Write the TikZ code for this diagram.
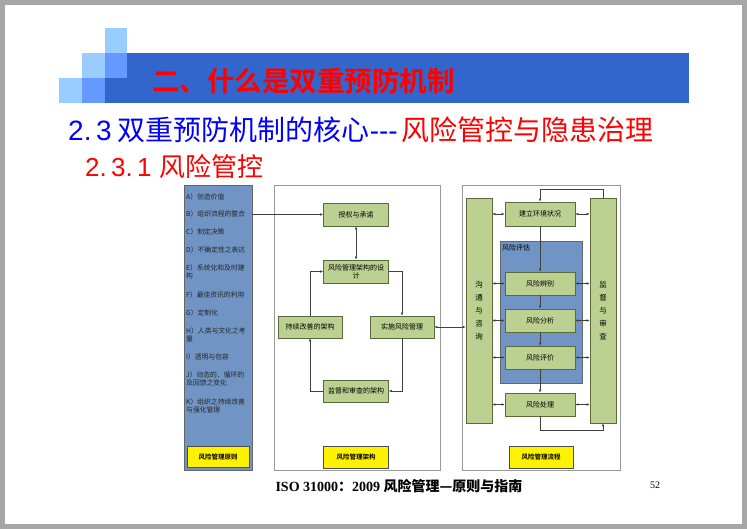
\documentclass[tikz,border=0pt]{standalone}
\usepackage{fontspec}
\setmainfont{Liberation Serif}
\newfontfamily\cjk{Noto Sans CJK SC}
\newfontfamily\cjkb{Noto Sans CJK SC Bold}
\newfontfamily\lsans{Liberation Sans}
\usetikzlibrary{arrows.meta}
\definecolor{barblue}{HTML}{3366CC}
\definecolor{medblue}{HTML}{6699FF}
\definecolor{litblue}{HTML}{99CCFF}
\definecolor{colblue}{HTML}{7094C4}
\definecolor{gbox}{HTML}{BCD092}
\definecolor{gedge}{HTML}{5A6B3A}
\tikzset{
 gb/.style={draw=gedge,fill=gbox,line width=0.6pt,font=\cjk\fontsize{7}{8}\selectfont,align=center,inner sep=1pt},
 yb/.style={draw=black!70,fill=yellow,line width=0.5pt,font=\cjkb\fontsize{6.5}{7}\selectfont},
 item/.style={anchor=north west,font=\cjk\fontsize{6.8}{8.5}\selectfont,text=black!85,align=left,inner sep=0pt},
 vt/.style={gb,font=\cjk\fontsize{7.5}{13}\selectfont},
 ar/.style={-{Latex[length=3pt,width=2.4pt]},draw=black!75,line width=0.5pt},
 dar/.style={{Latex[length=3pt,width=2.4pt]}-{Latex[length=3pt,width=2.4pt]},draw=black!75,line width=0.5pt},
 panel/.style={draw=black!40,fill=white,line width=0.8pt}
}
\begin{document}
\begin{tikzpicture}[x=1pt,y=-1pt]
\fill[black!35] (0,0) rectangle (747,529);
\fill[white] (5,5) rectangle (742,524);
\useasboundingbox (0,0) rectangle (747,529);
% decoration
\fill[litblue] (105,28) rectangle (127,53);
\fill[litblue] (82,53) rectangle (105,78);
\fill[litblue] (59,78) rectangle (82,103);
\fill[barblue] (105,53) rectangle (689,103);
\fill[medblue] (105,53) rectangle (127,78);
\fill[medblue] (82,78) rectangle (105,103);
\node[anchor=west,text=red,font=\cjkb\fontsize{27.5}{30}\selectfont,inner sep=0] (t1) at (152,81) {二、什么是双重预防机制};
\node[anchor=west,font=\cjk\fontsize{28}{30}\selectfont,inner sep=0] (t2) at (68,130) {\textcolor{blue}{{\lsans 2.\,3}\hspace{6pt}双重预防机制的核心{\lsans ---}\hspace{4pt}}\textcolor{red}{风险管控与隐患治理}};
\node[anchor=west,font=\cjk\fontsize{26}{28}\selectfont,text=red,inner sep=0] (t3) at (85,167) {{\lsans 2.\,3.\,1}\hspace{8pt}风险管控};
% left column
\draw[black!60,fill=colblue,line width=0.6pt] (184,185) rectangle (252,470);
\node[yb,minimum width=62pt,minimum height=21pt] (y1) at (218,457) {风险管理原则};
\foreach \t/\y [count=\i] in {A）创造价值/193,B）组织流程的整合/210,C）制定决策/228,D）不确定性之表达/246,E）系统化和及时建\\构/264,F）最佳资讯的利用/291,G）定制化/309,H）人类与文化之考\\量/327,I）透明与包容/353,J）动态的、循环的\\及回馈之变化/371,K）组织之持续改善\\与强化管理/398}
  \node[item] (it\i) at (186,\y) {\t};
% middle panel
\draw[panel] (274,185) rectangle (440,470);
\node[gb,minimum width=65pt,minimum height=23pt] (sq) at (356,214.5) {授权与承诺};
\node[gb,minimum width=65pt,minimum height=23pt] (sj) at (356,271.5) {风险管理架构的设\\计};
\node[gb,minimum width=64pt,minimum height=22pt] (cx) at (310,327) {持续改善的架构};
\node[gb,minimum width=64pt,minimum height=22pt] (ss) at (402,327) {实施风险管理};
\node[gb,minimum width=65pt,minimum height=22pt] (jd) at (356,391) {监督和审查的架构};
\node[yb,minimum width=65pt,minimum height=22pt] (y2) at (356,457) {风险管理架构};
\coordinate (bb) at (252,214.5);
\draw[ar] (bb) -- (sq.west);
\draw[dar] (sq.south) -- (sj.north);
\draw[ar] (sj.east) -| (ss.north);
\draw[ar] (ss.south) |- (jd.east);
\draw[ar] (jd.west) -| (cx.south);
\draw[ar] (cx.north) |- (sj.west);
% right panel
\draw[panel] (462,185) rectangle (620,470);
\draw[black!60,fill=colblue,line width=0.6pt] (500,241) rectangle (582,383);
\node[anchor=north west,font=\cjk\fontsize{7}{8}\selectfont,inner sep=0] (pg) at (502,244) {风险评估};
\node[vt,minimum width=26pt,minimum height=225pt] (gt) at (479,310.5) {沟\\通\\与\\咨\\询};
\node[vt,minimum width=26pt,minimum height=225pt] (jc) at (603,310.5) {监\\督\\与\\审\\查};
\node[gb,minimum width=70pt,minimum height=24pt] (hj) at (540,214) {建立环境状况};
\node[gb,minimum width=70pt,minimum height=23pt] (bs) at (540,283.5) {风险辨别};
\node[gb,minimum width=70pt,minimum height=23pt] (fx) at (540,320.5) {风险分析};
\node[gb,minimum width=70pt,minimum height=23pt] (pj) at (540,357.5) {风险评价};
\node[gb,minimum width=70pt,minimum height=23pt] (cl) at (540,404.5) {风险处理};
\node[yb,minimum width=64pt,minimum height=22pt] (y3) at (541,457) {风险管理流程};
\draw[dar] (ss.east) -- (ss.east -| gt.west);
\foreach \b in {hj,bs,fx,pj,cl}{
  \draw[dar] (gt.east |- \b.west) -- (\b.west);
  \draw[dar] (\b.east) -- (jc.west |- \b.east);
}
\draw[ar] (hj.south) -- (bs.north);
\draw[ar] (bs.south) -- (fx.north);
\draw[ar] (fx.south) -- (pj.north);
\draw[ar] (pj.south) -- (cl.north);
\draw[ar] (cl.south) -- ++(0,14) -| (jc.south);
\draw[ar] (jc.north) -- ++(0,-8) -| (hj.north);
% footer
\node[font=\bfseries\fontsize{14}{16}\selectfont,inner sep=0] (ft) at (399,486) {ISO 31000{\cjkb ：}2009 {\cjkb 风险管理—原则与指南}};
\node[font=\fontsize{10}{12}\selectfont,inner sep=0] (pn) at (655,485) {52};
\end{tikzpicture}
\end{document}
